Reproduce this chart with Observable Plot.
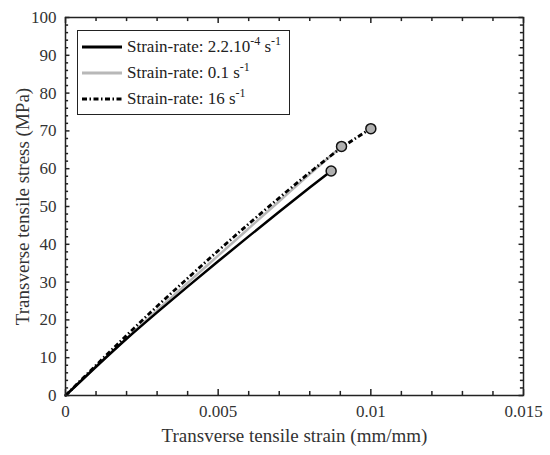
<!DOCTYPE html>
<html><head><meta charset="utf-8">
<script src="https://cdn.jsdelivr.net/npm/d3@7"></script>
<script src="https://cdn.jsdelivr.net/npm/@observablehq/plot@0.6"></script>
<style>
body{margin:0;background:#fff;}
.row{position:absolute;left:4px;height:22px;display:flex;align-items:center;white-space:nowrap;}
.row svg{margin-right:5px;}
sup{font-size:12px;vertical-align:7px;line-height:0;}
</style>
</head><body>
<div id="wrap" style="position:relative;width:550px;height:455px;font-family:'Liberation Serif',serif"><div id="legend" style="position:absolute;left:77px;top:30px;width:213px;height:85px;border:1.5px solid #222;background:#fff;box-sizing:border-box;font-size:17px;color:#222;font-family:'Liberation Serif',serif"></div></div>
<script>
// Data
const strainBlack = [0, 0.001, 0.002, 0.003, 0.004, 0.005, 0.006, 0.007, 0.008, 0.0087];
const stressBlack = [0, 7.6, 15.0, 22.0, 28.8, 35.5, 42.1, 48.6, 55.0, 59.4];
const strainGray = [0, 0.001, 0.002, 0.003, 0.004, 0.005, 0.006, 0.007, 0.008, 0.00904];
const stressGray = [0, 7.6, 15.1, 22.5, 29.8, 37.0, 44.2, 51.4, 58.6, 65.9];
const strainDash = [0, 0.001, 0.002, 0.003, 0.004, 0.005, 0.006, 0.007, 0.008, 0.009, 0.010];
const stressDash = [0, 8.0, 15.9, 23.6, 31.0, 38.3, 45.4, 52.3, 59.0, 65.3, 70.6];
const xTicks = [0, 0.005, 0.01, 0.015];
const yTicks = [0, 10, 20, 30, 40, 50, 60, 70, 80, 90, 100];
const xMinor = d3.range(0, 16).map(i => i / 1000);
const yMinor = d3.range(0, 51).map(i => i * 2);
const seriesNames = ["Strain-rate: 2.2.10<sup>-4</sup> s<sup>-1</sup>", "Strain-rate: 0.1 s<sup>-1</sup>", "Strain-rate: 16 s<sup>-1</sup>"];

const toPts = (xs, ys) => xs.map((x, i) => ({x, y: ys[i]}));
const black = toPts(strainBlack, stressBlack);
const gray = toPts(strainGray, stressGray);
const dash = toPts(strainDash, stressDash);
const ends = [black[black.length-1], gray[gray.length-1], dash[dash.length-1]];

const X0 = 0, X1 = 0.015, Y0 = 0, Y1 = 100;
const tx = (X1 - X0) * 0.0075, ty = (Y1 - Y0) * 0.012;
const isMajX = v => xTicks.some(t => Math.abs(t - v) < 1e-9);
const isMajY = v => v % 10 === 0;
const DASH = "5,2.5,1.5,2.5";
const FONT = "Liberation Serif";

const chart = Plot.plot({
  width: 550, height: 455,
  marginLeft: 65, marginRight: 27, marginTop: 17, marginBottom: 60,
  style: {fontFamily: "'Liberation Serif', serif", fontSize: "17px", color: "#333", background: "#fff"},
  x: {domain: [X0, X1]},
  y: {domain: [Y0, Y1]},
  marks: [
    Plot.axisX(xTicks, {tickSize: 0, tickPadding: 9, tickFormat: d => String(d), label: null, fill: "#333"}),
    Plot.axisX({label: "Transverse tensile strain (mm/mm)", ticks: [], tickSize: 0, labelAnchor: "center", labelArrow: "none", labelOffset: 46, fill: "#333", fontSize: 19}),
    Plot.axisY(yTicks, {tickSize: 0, tickPadding: 9, tickFormat: d => String(d), label: null, fill: "#333"}),
    Plot.axisY({label: "Transverse tensile stress (MPa)", ticks: [], tickSize: 0, labelAnchor: "center", labelArrow: "none", labelOffset: 50, fill: "#333", fontSize: 19}),
    // inward ticks on all four sides
    Plot.ruleX(xMinor, {x: d => d, y1: Y0, y2: d => Y0 + (isMajX(d) ? 1.3 : 0.9) * ty, stroke: "#222", strokeWidth: 1.5}),
    Plot.ruleX(xMinor, {x: d => d, y1: Y1, y2: d => Y1 - (isMajX(d) ? 1.3 : 0.9) * ty, stroke: "#222", strokeWidth: 1.5}),
    Plot.ruleY(yMinor, {y: d => d, x1: X0, x2: d => X0 + (isMajY(d) ? 1.3 : 0.9) * tx, stroke: "#222", strokeWidth: 1.5}),
    Plot.ruleY(yMinor, {y: d => d, x1: X1, x2: d => X1 - (isMajY(d) ? 1.3 : 0.9) * tx, stroke: "#222", strokeWidth: 1.5}),
    Plot.line(gray, {x: "x", y: "y", stroke: "#b8b8b8", strokeWidth: 2.5, curve: "monotone-x"}),
    Plot.line(black, {x: "x", y: "y", stroke: "#000", strokeWidth: 2.5, curve: "monotone-x"}),
    Plot.line(dash, {x: "x", y: "y", stroke: "#000", strokeWidth: 2.8, strokeDasharray: DASH, strokeLinecap: "butt", curve: "monotone-x"}),
    Plot.dot(ends, {x: "x", y: "y", r: 5, fill: "#b0b0b0", stroke: "#111", strokeWidth: 1.5}),
    Plot.frame({stroke: "#222", strokeWidth: 1.5})
  ]
});
chart.querySelectorAll("text").forEach(t => t.setAttribute("font-family", FONT));
const wrap = document.getElementById("wrap");
wrap.insertBefore(chart, wrap.firstChild);

const styles = [
  {stroke: "#000", dash: null},
  {stroke: "#b8b8b8", dash: null},
  {stroke: "#000", dash: DASH}
];
const legend = document.getElementById("legend");
seriesNames.forEach((name, i) => {
  const row = document.createElement("div");
  row.className = "row";
  row.style.top = (5 + i * 26) + "px";
  const s = styles[i];
  row.innerHTML = `<svg width="40" height="6"><line x1="0" x2="40" y1="3" y2="3" stroke="${s.stroke}" stroke-width="2.8" ${s.dash ? `stroke-dasharray="${s.dash}"` : ""}/></svg><span>${name}</span>`;
  legend.appendChild(row);
});
</script>
</body></html>
